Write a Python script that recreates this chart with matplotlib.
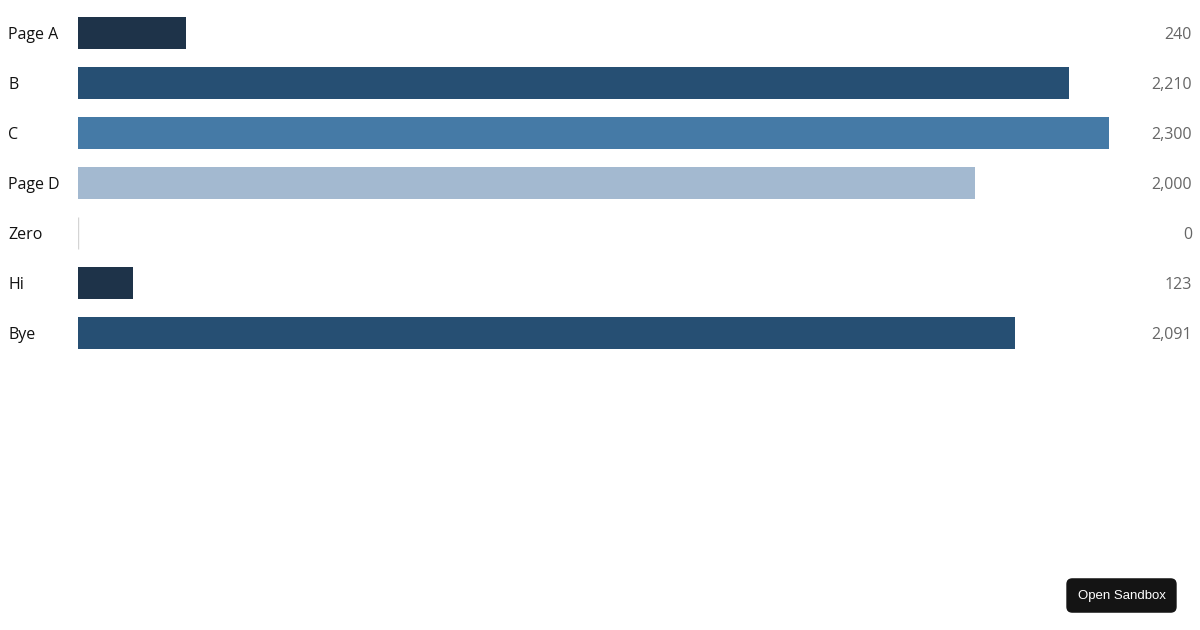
import matplotlib
matplotlib.use("Agg")
import matplotlib.pyplot as plt
import matplotlib.transforms as mtransforms

# donnees du graphique
categories = ["Page A", "B", "C", "Page D", "Zero", "Hi", "Bye"]
valeurs = [240, 2210, 2300, 2000, 0, 123, 2091]
couleurs = ["#1e3349", "#264f73", "#457aa6", "#a3b9d0", "#d4d4d4", "#1e3349", "#264f73"]

W, H = 1200, 630
fig = plt.figure(figsize=(W / 100, H / 100), dpi=100)
fig.patch.set_facecolor("white")

# axe principal : barres de x=78 a x=1109 px pour 2300
ax = fig.add_axes([78 / W, 1 - 358 / H, (1109 - 78) / W, 350 / H])
ax.set_xlim(0, max(valeurs))
ax.set_ylim(len(categories) - 0.5, -0.5)
ax.axis("off")

pos = list(range(len(categories)))
# seule la barre a zero garde un contour (trait fin gris)
largeurs_bord = [1.0 if v == 0 else 0 for v in valeurs]
ax.barh(pos, valeurs, height=0.64, color=couleurs, edgecolor=couleurs,
        linewidth=largeurs_bord)

trans = mtransforms.blended_transform_factory(fig.transFigure, ax.transData)
trans = mtransforms.offset_copy(trans, fig=fig, y=-2, units="dots")
for i, (cat, val) in enumerate(zip(categories, valeurs)):
    fig.text(8 / W, i, cat, transform=trans, ha="left", va="center",
             fontsize=11.5, family="Open Sans", color="#111111")
    fig.text(1192 / W, i, "{:,}".format(val), transform=trans, ha="right",
             va="center", fontsize=11.5, family="Open Sans", color="#666666")

# bouton "Open Sandbox"
fig.text(1121.5 / W, 1 - 595.5 / H, "Open Sandbox", ha="center", va="center",
         fontsize=9.5, family="Liberation Sans", color="white",
         bbox=dict(boxstyle="round,pad=0.8,rounding_size=0.4",
                   facecolor="#141414", edgecolor="#141414"))

fig.savefig("out.png", dpi=100)
